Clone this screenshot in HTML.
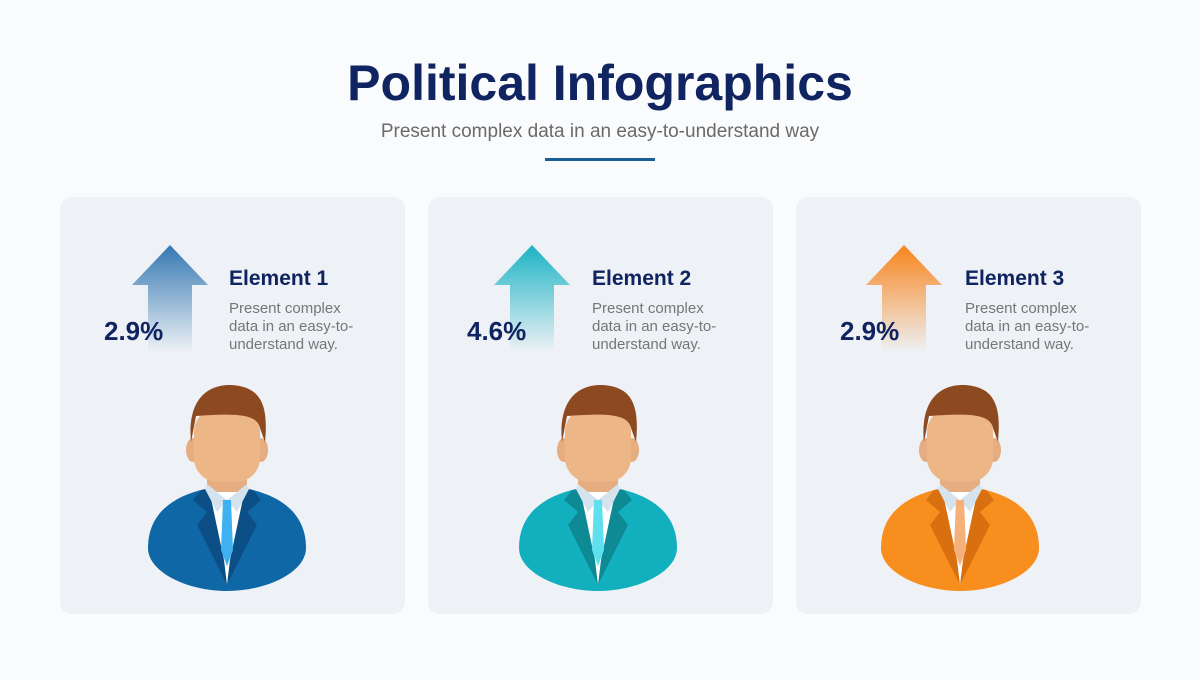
<!DOCTYPE html>
<html><head><meta charset="utf-8"><style>
body{margin:0;width:1200px;height:675px;background:#fafbfd;font-family:"Liberation Sans",sans-serif;overflow:hidden}
</style></head><body>
<svg id="s" width="1200" height="675" xmlns="http://www.w3.org/2000/svg">
<defs>
<linearGradient id="g0" x1="0" y1="0" x2="0" y2="1"><stop offset="0" stop-color="#3578b2"/><stop offset="1" stop-color="#3578b2" stop-opacity="0"/></linearGradient>
<linearGradient id="g1" x1="0" y1="0" x2="0" y2="1"><stop offset="0" stop-color="#1cb3c4"/><stop offset="1" stop-color="#1cb3c4" stop-opacity="0"/></linearGradient>
<linearGradient id="g2" x1="0" y1="0" x2="0" y2="1"><stop offset="0" stop-color="#f7841c"/><stop offset="1" stop-color="#f7841c" stop-opacity="0"/></linearGradient>
</defs>
<text x="600" y="100" text-anchor="middle" font-size="50" font-weight="bold" fill="#0f2460">Political Infographics</text>
<text x="600" y="137" text-anchor="middle" font-size="19" fill="#6a6a6a">Present complex data in an easy-to-understand way</text>
<rect x="545" y="158" width="110" height="3" fill="#1a5e96"/>
</svg>
<script>
const labels=["Element 1","Element 2","Element 3"];
const values=[2.9,4.6,2.9];
const suits=["#0f67a6","#12b0bf","#f78e1e"];
const lapels=["#0b4f86","#0e8a95","#d8700f"];
const ties=["#3fb1f0","#5fe0ef","#f6b07a"];
const arrowX=[170,532,904], textX=[229,592,965], personX=[227,598,960], pctX=[104,467,840];
const NS="http://www.w3.org/2000/svg";
const svg=document.getElementById('s');
function el(t,a,p){const e=document.createElementNS(NS,t);for(const k in a)e.setAttribute(k,a[k]);(p||svg).appendChild(e);return e;}
labels.forEach((lab,i)=>{
  const x0=60+i*368;
  const g=el('g',{});
  
  
  const r=el('rect',{x:x0,y:197,width:345,height:417,rx:12,fill:'#eef1f5'},g);
  
  
  const ax=arrowX[i];
  const ar=el('polygon',{points:`${ax},245 ${ax+38},285 ${ax+22},285 ${ax+22},352 ${ax-22},352 ${ax-22},285 ${ax-38},285`,fill:`url(#g${i})`},g);
  
  
  const v=el('text',{x:pctX[i],y:340,'font-size':26,'font-weight':'bold',fill:'#0f2460'},g);
  v.textContent=values[i].toFixed(1)+'%';
  
  
  const h=el('text',{x:textX[i],y:285,'font-size':21,'font-weight':'bold',fill:'#0f2460'},g);
  h.textContent=lab;
  
  
  ["Present complex","data in an easy-to-","understand way."].forEach((t,j)=>{
    const d=el('text',{x:textX[i],y:313+j*18,'font-size':15,fill:'#767676'},g);
    d.textContent=t;
    
    
  });
  const cx=personX[i];
  const p=el('g',{transform:`translate(${cx},0)`},g);
  
  
  el('path',{d:'M-79,548 C-79,512 -52,496 -22,489 L22,489 C52,496 79,512 79,548 C79,572 40,591 0,591 C-40,591 -79,572 -79,548 Z',fill:suits[i]},p);
  el('polygon',{points:'-22,489 0,585 22,489',fill:'#ffffff'},p);
  el('polygon',{points:'-26,490 -18,489 -3,560 0,585 -30,525 -20,512 -34,500',fill:lapels[i]},p);
  el('polygon',{points:'26,490 18,489 3,560 0,585 30,525 20,512 34,500',fill:lapels[i]},p);
  el('rect',{x:-20,y:462,width:40,height:30,fill:'#e6ad80'},p);
  el('polygon',{points:'-22,489 -20,484 0,500 -10,512',fill:'#d4e3ee'},p);
  el('polygon',{points:'22,489 20,484 0,500 10,512',fill:'#d4e3ee'},p);
  el('polygon',{points:'-4,500 4,500 6,550 0,566 -6,550',fill:ties[i]},p);
  el('ellipse',{cx:-34,cy:450,rx:7,ry:12,fill:'#e6ad80'},p);
  el('ellipse',{cx:34,cy:450,rx:7,ry:12,fill:'#e6ad80'},p);
  el('rect',{x:-33,y:408,width:66,height:74,rx:24,fill:'#ecb687'},p);
  el('path',{d:'M-36,442 C-40,400 -20,384 5,385 C32,387 42,402 38,442 L33,428 C30,414 10,413 -31,416 Z',fill:'#8d4a21'},p);
});
</script>
</body></html>
